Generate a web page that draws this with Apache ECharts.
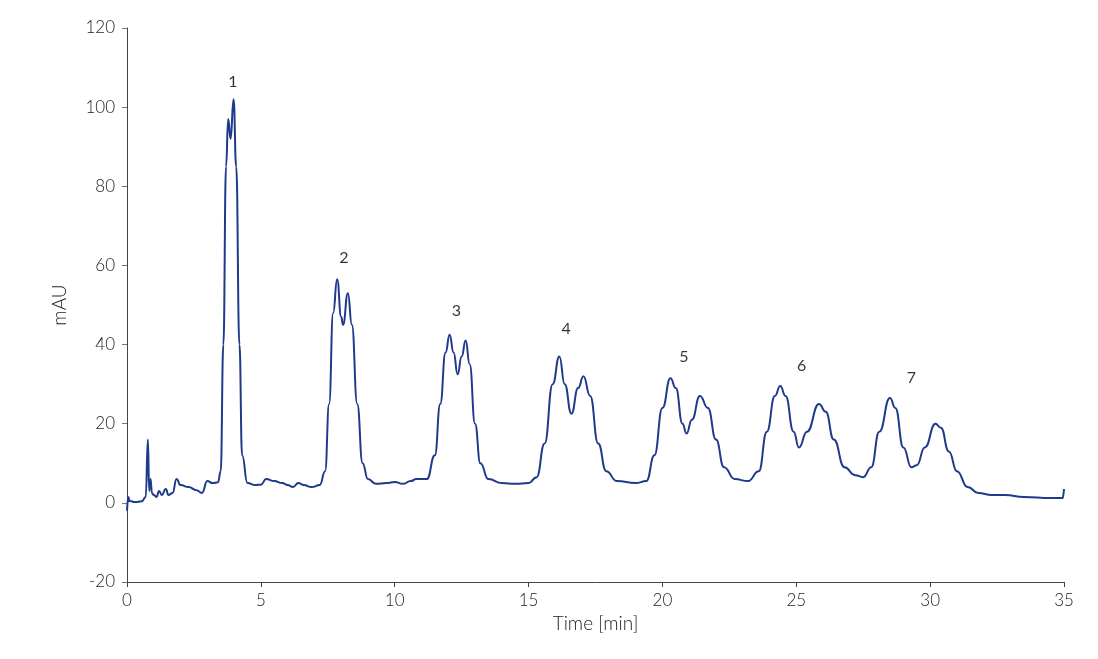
<!DOCTYPE html>
<html>
<head>
<meta charset="utf-8">
<script src="https://cdn.jsdelivr.net/npm/echarts@6/dist/echarts.min.js"></script>
<style>html,body{margin:0;padding:0;background:#fff}#chart{width:1098px;height:659px}</style>
</head>
<body>
<div id="chart"></div>
<script>
// chromatogram trace: [time min, mAU]
var trace = [
  [0,-2],[0.05,1.5],[0.1,0.5],[0.3,0.2],[0.55,0.4],[0.7,1.5],[0.78,16],[0.83,3],[0.88,6],[0.93,2.5],
  [1.0,2],[1.1,1.5],[1.2,3],[1.3,2],[1.45,3.5],[1.55,2],[1.7,2.5],[1.85,6],[2.0,4.5],[2.3,4],
  [2.6,3.2],[2.8,2.5],[3.0,5.5],[3.2,5],[3.4,5.2],[3.5,8],[3.6,40],[3.7,85],[3.78,97],[3.87,92],
  [3.98,102],[4.08,85],[4.2,40],[4.3,12],[4.5,5],[4.8,4.5],[5.0,4.6],[5.2,6],[5.5,5.5],[5.8,5],
  [6.0,4.5],[6.2,4],[6.4,5],[6.6,4.5],[6.9,4],[7.2,4.5],[7.4,8],[7.55,25],[7.7,48],[7.85,56.5],
  [8.0,47],[8.07,45],[8.25,53],[8.4,45],[8.6,25],[8.8,10],[9.0,6],[9.3,4.8],[9.7,5],[10.0,5.3],
  [10.3,4.8],[10.6,5.5],[10.8,6],[11.2,6],[11.5,12],[11.7,25],[11.9,38],[12.05,42.5],[12.2,38],[12.35,32.5],
  [12.5,37],[12.65,41],[12.8,35],[13.0,20],[13.2,10],[13.5,6],[14.0,5],[14.5,4.8],[15.0,5],[15.3,6.5],
  [15.6,15],[15.9,30],[16.15,37],[16.35,30],[16.6,22.5],[16.85,29],[17.05,32],[17.3,27],[17.6,15],[17.9,8],
  [18.3,5.5],[19.0,5],[19.4,5.5],[19.7,12],[20.0,24],[20.3,31.5],[20.5,29],[20.75,20],[20.9,17.5],[21.1,21],
  [21.4,27],[21.7,24],[22.0,16],[22.3,9],[22.7,6],[23.2,5.5],[23.6,8],[23.9,18],[24.2,27],[24.4,29.5],
  [24.6,27],[24.9,18],[25.1,14],[25.4,18],[25.85,25],[26.1,23],[26.4,16],[26.8,9],[27.2,7],[27.5,6.5],
  [27.8,9],[28.1,18],[28.5,26.5],[28.7,24],[29.0,14],[29.3,9],[29.5,9.5],[29.8,14],[30.2,20],[30.4,19],
  [30.7,13],[31.0,8],[31.4,4],[31.8,2.5],[32.3,2],[32.8,2],[33.5,1.5],[34.5,1.2],[34.95,1.2],[35,3.5]
];
var peakNames = ['1','2','3','4','5','6','7'];
var peakLabelPos = [[3.96,106.4],[8.1,62],[12.3,48.5],[16.4,44],[20.8,37],[25.2,34.6],[29.3,31.6]];

var chart = echarts.init(document.getElementById('chart'));
var font = 'Lato';
chart.setOption({
  animation: false,
  grid: {left: 127, right: 34, top: 28, bottom: 77},
  xAxis: {
    type: 'value', min: 0, max: 35, interval: 5,
    name: 'Time [min]', nameLocation: 'middle', nameGap: 30,
    nameTextStyle: {fontFamily: font, fontSize: 19, color: '#222', fontWeight: 300},
    axisLine: {onZero: false, lineStyle: {color: '#444'}},
    axisTick: {show: true, inside: false, lineStyle: {color: '#444'}},
    axisLabel: {fontFamily: font, fontSize: 17, color: '#222', margin: 10, fontWeight: 300},
    splitLine: {show: false}
  },
  yAxis: {
    type: 'value', min: -20, max: 120, interval: 20,
    name: 'mAU', nameLocation: 'middle', nameGap: 58,
    nameTextStyle: {fontFamily: font, fontSize: 19, color: '#222', fontWeight: 300},
    axisLine: {show: true, lineStyle: {color: '#444'}},
    axisTick: {show: true, lineStyle: {color: '#777'}},
    axisLabel: {fontFamily: font, fontSize: 17, color: '#222', margin: 12, fontWeight: 300},
    splitLine: {show: false}
  },
  series: [{
    type: 'line', data: trace, smooth: 0.5, smoothMonotone: 'x', showSymbol: false,
    lineStyle: {color: '#1f3a8a', width: 2}
  }, {
    type: 'scatter', symbolSize: 0,
    data: peakLabelPos.map(function (p, i) { return {value: p, name: peakNames[i]}; }),
    label: {show: true, formatter: '{b}', position: 'inside', fontFamily: font, fontSize: 16, color: '#000'}
  }]
});
</script>
</body>
</html>
